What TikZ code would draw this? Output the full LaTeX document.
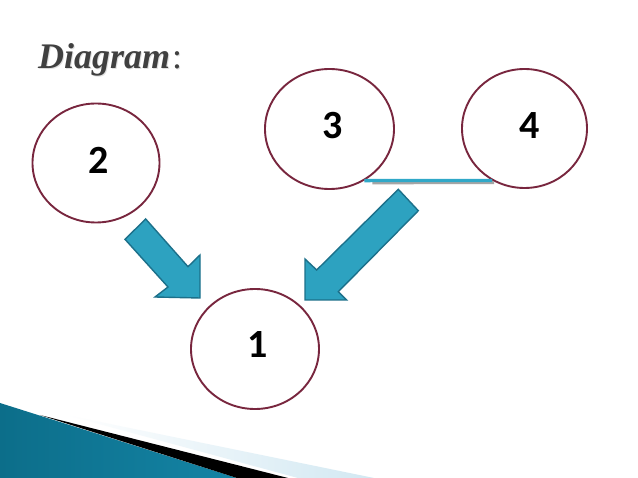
\documentclass[tikz,border=0pt]{standalone}
\usepackage{fontspec}
\setmainfont{Liberation Serif}
\newfontfamily\titlefont{Liberation Serif}[BoldItalicFont={Liberation Serif Bold Italic}, ItalicFont={Liberation Serif Italic}]
\newfontfamily\digitfont{Carlito}[BoldFont={Carlito Bold}]
\usetikzlibrary{shapes.geometric}
\definecolor{ringdark}{RGB}{120,38,62}
\definecolor{arrowfill}{RGB}{45,162,192}
\definecolor{arrowedge}{RGB}{28,112,138}
\definecolor{linkblue}{RGB}{48,168,200}
\definecolor{linkshadow}{RGB}{165,165,165}
\definecolor{titlegray}{RGB}{64,64,64}
\definecolor{tealdark}{RGB}{12,110,138}
\definecolor{teallight}{RGB}{100,195,228}
\definecolor{tealmid}{RGB}{20,132,165}
\definecolor{paleblue}{RGB}{210,232,242}
\tikzset{
  ring/.style={ellipse, draw=ringdark, line width=1.9pt, inner sep=0pt, fill=white},
  digit/.style={font=\digitfont\bfseries\fontsize{40}{40}\selectfont, text=black, inner sep=0pt},
  blockarrow/.style={fill=arrowfill, draw=arrowedge, line width=1.4pt, line join=miter},
  link/.style={draw=linkblue, line width=3.3pt},
  linkshade/.style={draw=linkshadow, line width=3pt},
  titletext/.style={anchor=base west, inner sep=0pt, font=\titlefont\fontsize{36}{36}\selectfont},
}
\begin{document}
\begin{tikzpicture}[x=1pt,y=-1pt]
\useasboundingbox (0,0) rectangle (638,478);
\fill[white] (0,0) rectangle (638,478);

% bottom decoration
\shade[left color=tealdark, middle color=teallight, right color=tealmid, shading angle=90]
  (0,403) -- (237,478) -- (0,478) -- cycle;
\fill[black] (40,415) -- (288,478) -- (237,478) -- cycle;
\shade[left color=white, right color=paleblue] (66,415) -- (374,478) -- (298,478) -- cycle;

% title
\node[titletext, text=black!12] (titleshadow) at (39,70) {\bfseries\itshape Diagram\mdseries\upshape\kern2pt:};
\node[titletext, text=titlegray] (title) at (38,69) {\bfseries\itshape Diagram\mdseries\upshape\kern2pt:};

% circles
\node[ring, minimum width=127pt, minimum height=119pt] (c2) at (96,163) {};
\node[ring, minimum width=129pt, minimum height=120pt] (c3) at (329.5,129) {};
\node[ring, minimum width=125pt, minimum height=119pt] (c4) at (524.5,128.5) {};
\node[ring, minimum width=128pt, minimum height=120pt] (c1) at (255,349) {};

\node[digit] (t2) at ([xshift=3pt,yshift=3pt]c2.center) {2};
\node[digit] (t3) at ([xshift=3pt,yshift=3pt]c3.center) {3};
\node[digit] (t4) at ([xshift=5.5pt,yshift=3pt]c4.center) {4};
\node[digit] (t1) at ([xshift=3pt,yshift=4pt]c1.center) {1};

% link between 3 and 4
\draw[linkshade] ([xshift=8pt,yshift=-2.2pt]c3.-56) -- ([xshift=2pt,yshift=-2.2pt]c4.-122);
\draw[link] (c3.-56) -- (c4.-122);

% block arrows
\draw[blockarrow] (145.7,219) -- (188,266.7) -- (200,255) -- (200,298) -- (155,297) -- (168,287) -- (125,239.3) -- cycle;
\draw[blockarrow] (398.3,189.3) -- (418.3,210.7) -- (338.3,291.7) -- (346.7,300) -- (305,300) -- (305,259) -- (316.7,270) -- cycle;
\end{tikzpicture}
\end{document}
